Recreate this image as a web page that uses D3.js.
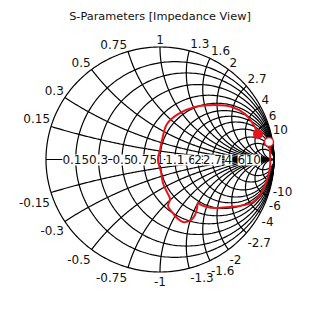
<!DOCTYPE html>
<html>
<head>
<meta charset="utf-8">
<script src="https://cdn.jsdelivr.net/npm/d3@7"></script>
<style>
  html, body { margin: 0; padding: 0; background: #fff; }
  svg { display: block; }
  text { font-family: "DejaVu Sans", Verdana, sans-serif; }
</style>
</head>
<body>
<svg id="chart" width="320" height="320"></svg>
<script>
const chartTitle = "S-Parameters [Impedance View]";
const resistanceValues = [0.15, 0.3, 0.5, 0.75, 1, 1.3, 1.6, 2, 2.7, 4, 6, 10];
const resistanceLabels = ["0.15", "0.3", "0.5", "0.75", "1", "1.3", "1.6", "2", "2.7", "4", "6", "10"];
const reactanceValues = [0.15, 0.3, 0.5, 0.75, 1, 1.3, 1.6, 2, 2.7, 4, 6, 10,
                         -0.15, -0.3, -0.5, -0.75, -1, -1.3, -1.6, -2, -2.7, -4, -6, -10];
const reactanceLabels = ["0.15", "0.3", "0.5", "0.75", "1", "1.3", "1.6", "2", "2.7", "4", "6", "10",
                         "-0.15", "-0.3", "-0.5", "-0.75", "-1", "-1.3", "-1.6", "-2", "-2.7", "-4", "-6", "-10"];
// S11 trace, reflection coefficient (real, imaginary)
const traceRe = [0.956, 0.965, 0.965, 0.939, 0.904, 0.816, 0.702, 0.614, 0.482, 0.412, 0.360, 0.333,
                 0.325, 0.307, 0.272, 0.202, 0.149, 0.105, 0.070, 0.088, 0.061, 0.026, 0.009, -0.018,
                 0.000, 0.018, 0.061, 0.158, 0.307, 0.482, 0.632, 0.746, 0.816, 0.860];
const traceIm = [0.156, 0.058, -0.067, -0.182, -0.271, -0.378, -0.413, -0.422, -0.431, -0.422, -0.404, -0.387,
                 -0.431, -0.493, -0.538, -0.556, -0.520, -0.467, -0.413, -0.351, -0.289, -0.209, -0.111, -0.004,
                 0.084, 0.173, 0.316, 0.404, 0.467, 0.484, 0.467, 0.404, 0.316, 0.227];
const openMarkerIndex = 0;
const filledMarkerIndex = traceRe.length - 1;

const svg = d3.select("#chart");
svg.append("rect").attr("width", 320).attr("height", 320).attr("fill", "#fff");

const x = d3.scaleLinear().domain([-1, 1]).range([46, 274]);
const y = d3.scaleLinear().domain([-1, 1]).range([272, 47]);
const line = d3.line().x(d => x(d[0])).y(d => y(d[1]));

svg.append("text").attr("x", 160).attr("y", 19.5).attr("text-anchor", "middle")
  .attr("font-size", 11.3).attr("fill", "#111").text(chartTitle);

const grid = svg.append("g").attr("fill", "none").attr("stroke", "#000").attr("stroke-width", 1.2);

function circlePts(cx, cy, rad, a0, a1, n) {
  return d3.range(n + 1).map(i => {
    const a = a0 + (a1 - a0) * i / n;
    return [cx + rad * Math.cos(a), cy + rad * Math.sin(a)];
  });
}
// outer circle (r = 0)
grid.append("path").attr("d", line(circlePts(0, 0, 1, 0, 2 * Math.PI, 360)));

// constant resistance circles
resistanceValues.forEach(r => {
  const c = r / (1 + r), rad = 1 / (1 + r);
  grid.append("path").attr("d", line(circlePts(c, 0, rad, 0, 2 * Math.PI, 240)));
});

// constant reactance arcs
function reactancePoint(xv) {
  const d = xv * xv + 1;
  return [(xv * xv - 1) / d, 2 * xv / d];
}
reactanceValues.forEach(xv => {
  const s = Math.sign(xv), ax = Math.abs(xv);
  const P = reactancePoint(ax);
  const a0 = -Math.PI / 2;
  let a1 = Math.atan2(P[1] - 1 / ax, P[0] - 1);
  if (a1 > a0) a1 -= 2 * Math.PI;
  const pts = circlePts(1, 1 / ax, 1 / ax, a0, a1, 240).map(p => [p[0], s * p[1]]);
  grid.append("path").attr("d", line(pts));
});

// real axis
grid.append("path").attr("d", line([[-1, 0], [1, 0]]));

// reactance labels around the edge
const outer = svg.append("g").attr("font-size", 12).attr("fill", "#111");
reactanceValues.forEach((xv, i) => {
  const P = reactancePoint(xv);
  const px = x(P[0]), py = y(P[1]);
  let anchor = "middle", dx = 0;
  if (P[0] < -0.05) { anchor = "end"; dx = -1; }
  else if (P[0] > 0.05) { anchor = "start"; dx = 1; }
  const dy = xv > 0 ? -3 : 14;
  outer.append("text").attr("x", px + dx).attr("y", py + dy)
    .attr("text-anchor", anchor).text(reactanceLabels[i]);
});

// resistance labels on real axis with white boxes (later ones cover earlier ones, as in the reference)
const axisLabels = svg.append("g").attr("font-size", 12).attr("fill", "#111");
resistanceValues.forEach((r, i) => {
  const g0 = (r - 1) / (r + 1);
  const g = axisLabels.append("g");
  const t = g.append("text").attr("x", x(g0)).attr("y", y(0) + 4.5)
    .attr("text-anchor", "middle").text(resistanceLabels[i]);
  const bb = t.node().getBBox();
  g.insert("rect", "text").attr("x", bb.x).attr("y", y(0) - 5).attr("width", bb.width)
    .attr("height", 11).attr("fill", "#fff");
});

// trace
const tracePts = traceRe.map((v, i) => [v, traceIm[i]]);
svg.append("path").attr("d", line.curve(d3.curveCatmullRom)(tracePts))
  .attr("fill", "none").attr("stroke", "#e8141c").attr("stroke-width", 2);

svg.append("circle").attr("cx", x(traceRe[filledMarkerIndex])).attr("cy", y(traceIm[filledMarkerIndex]))
  .attr("r", 5).attr("fill", "#e8141c");
svg.append("circle").attr("cx", x(traceRe[openMarkerIndex])).attr("cy", y(traceIm[openMarkerIndex]))
  .attr("r", 4.5).attr("fill", "#fff").attr("stroke", "#e8141c").attr("stroke-width", 1.5);
</script>
</body>
</html>
